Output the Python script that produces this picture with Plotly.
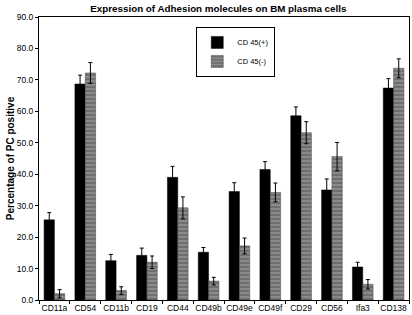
import plotly.graph_objects as go

categories = ["CD11a", "CD54", "CD11b", "CD19", "CD44", "CD49b", "CD49e", "CD49f", "CD29", "CD56", "Ifa3", "CD138"]
pos_values = [25.5, 68.7, 12.5, 14.2, 39.0, 15.2, 34.5, 41.5, 58.6, 35.0, 10.5, 67.4]
pos_err = [2.3, 2.8, 2.0, 2.3, 3.5, 1.5, 2.8, 2.5, 2.8, 3.5, 1.5, 3.0]
neg_values = [2.0, 72.2, 3.0, 12.0, 29.3, 6.0, 17.2, 34.2, 53.2, 45.6, 5.0, 73.7]
neg_err = [1.3, 3.3, 1.2, 2.0, 3.5, 1.2, 2.5, 3.0, 3.5, 4.5, 1.5, 3.0]
y_ticks = [0, 10, 20, 30, 40, 50, 60, 70, 80, 90]

font = "Liberation Sans, Arial, sans-serif"

fig = go.Figure()
fig.add_trace(go.Bar(
    name="CD 45(+)", x=categories, y=pos_values,
    marker=dict(color="black", line=dict(color="black", width=0.5)),
    error_y=dict(type="data", array=pos_err, color="black", thickness=1, width=2),
))
fig.add_trace(go.Bar(
    name="CD 45(-)", x=categories, y=neg_values,
    marker=dict(color="#808080", line=dict(color="#404040", width=0.5),
                pattern=dict(shape="-", fgcolor="#3a3a3a", bgcolor="#8a8a8a", size=4, solidity=0.35)),
    error_y=dict(type="data", array=neg_err, color="black", thickness=1, width=2),
))

fig.update_layout(
    width=412, height=315,
    margin=dict(l=39, r=3, t=17, b=15, autoexpand=False),
    paper_bgcolor="white", plot_bgcolor="white",
    barmode="group", bargap=0.33, bargroupgap=0,
    font=dict(family=font, size=9, color="black"),
    title=dict(text="<b>Expression of Adhesion molecules on BM plasma cells</b>",
               x=0.53, xanchor="center", y=0.985, yanchor="top",
               font=dict(size=9.8, family=font)),
    legend=dict(x=0.425, y=0.965, xanchor="left", yanchor="top",
                bordercolor="black", borderwidth=1, bgcolor="white",
                font=dict(size=7.5), itemwidth=30, tracegroupgap=0),
    showlegend=True,
)
fig.update_xaxes(showline=True, linecolor="black", linewidth=1, mirror=True,
                 ticks="outside", tickson="boundaries", ticklen=3, tickcolor="black",
                 tickangle=0, tickfont=dict(size=8.5), automargin=False)
fig.update_yaxes(range=[0, 90], tickvals=y_ticks, tickformat=".1f",
                 showline=True, linecolor="black", linewidth=1, mirror=True,
                 ticks="outside", ticklen=3, tickcolor="black", showgrid=False,
                 tickfont=dict(size=8.5), automargin=False,
                 title=dict(text="<b>Percentage of PC positive</b>", font=dict(size=10), standoff=0))

fig.write_html("out.html", config={"displayModeBar": False},
               post_script="document.body.style.margin='0';document.body.style.padding='0';")
